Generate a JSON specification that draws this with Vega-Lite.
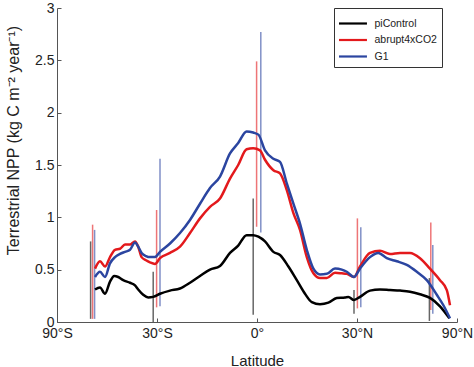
{
  "$schema": "https://vega.github.io/schema/vega-lite/v6.json",
  "width": 400,
  "height": 314,
  "autosize": {"type": "none"},
  "padding": {"left": 57, "top": 8, "right": 17, "bottom": 45},
  "background": "white",
  "config": {
    "view": {"stroke": null},
    "font": "Liberation Sans",
    "axis": {
      "domainColor": "#555",
      "tickColor": "#555",
      "tickSize": -4,
      "grid": false,
      "labelColor": "#222",
      "titleColor": "#222",
      "labelFontSize": 14,
      "titleFontSize": 15,
      "titleFontWeight": "normal",
      "labelFont": "Liberation Sans",
      "titleFont": "Liberation Sans",
      "labelFlush": false,
      "labelOverlap": false,
      "labelBound": false
    }
  },
  "datasets": {
    "curves": [
      {"s": -0.81, "series": "piControl", "npp": 0.31},
      {"s": -0.785, "series": "piControl", "npp": 0.33},
      {"s": -0.76, "series": "piControl", "npp": 0.27},
      {"s": -0.735, "series": "piControl", "npp": 0.385},
      {"s": -0.714, "series": "piControl", "npp": 0.44},
      {"s": -0.694, "series": "piControl", "npp": 0.43},
      {"s": -0.669, "series": "piControl", "npp": 0.40},
      {"s": -0.635, "series": "piControl", "npp": 0.375},
      {"s": -0.61, "series": "piControl", "npp": 0.35},
      {"s": -0.594, "series": "piControl", "npp": 0.31},
      {"s": -0.569, "series": "piControl", "npp": 0.26},
      {"s": -0.544, "series": "piControl", "npp": 0.235},
      {"s": -0.519, "series": "piControl", "npp": 0.24},
      {"s": -0.485, "series": "piControl", "npp": 0.27},
      {"s": -0.435, "series": "piControl", "npp": 0.30},
      {"s": -0.385, "series": "piControl", "npp": 0.32},
      {"s": -0.335, "series": "piControl", "npp": 0.375},
      {"s": -0.285, "series": "piControl", "npp": 0.44},
      {"s": -0.235, "series": "piControl", "npp": 0.50},
      {"s": -0.185, "series": "piControl", "npp": 0.535},
      {"s": -0.135, "series": "piControl", "npp": 0.66},
      {"s": -0.094, "series": "piControl", "npp": 0.73},
      {"s": -0.052, "series": "piControl", "npp": 0.83},
      {"s": -0.019, "series": "piControl", "npp": 0.83},
      {"s": 0.007, "series": "piControl", "npp": 0.815},
      {"s": 0.04, "series": "piControl", "npp": 0.77},
      {"s": 0.082, "series": "piControl", "npp": 0.67},
      {"s": 0.115, "series": "piControl", "npp": 0.64},
      {"s": 0.157, "series": "piControl", "npp": 0.53},
      {"s": 0.199, "series": "piControl", "npp": 0.40},
      {"s": 0.24, "series": "piControl", "npp": 0.27},
      {"s": 0.274, "series": "piControl", "npp": 0.19},
      {"s": 0.315, "series": "piControl", "npp": 0.17},
      {"s": 0.357, "series": "piControl", "npp": 0.185},
      {"s": 0.399, "series": "piControl", "npp": 0.23},
      {"s": 0.44, "series": "piControl", "npp": 0.235},
      {"s": 0.457, "series": "piControl", "npp": 0.24},
      {"s": 0.485, "series": "piControl", "npp": 0.21},
      {"s": 0.515, "series": "piControl", "npp": 0.24},
      {"s": 0.565, "series": "piControl", "npp": 0.30},
      {"s": 0.615, "series": "piControl", "npp": 0.31},
      {"s": 0.665, "series": "piControl", "npp": 0.305},
      {"s": 0.715, "series": "piControl", "npp": 0.30},
      {"s": 0.765, "series": "piControl", "npp": 0.29},
      {"s": 0.815, "series": "piControl", "npp": 0.265},
      {"s": 0.865, "series": "piControl", "npp": 0.23},
      {"s": 0.915, "series": "piControl", "npp": 0.15},
      {"s": 0.962, "series": "piControl", "npp": 0.035},

      {"s": -0.81, "series": "abrupt4xCO2", "npp": 0.51},
      {"s": -0.785, "series": "abrupt4xCO2", "npp": 0.58},
      {"s": -0.76, "series": "abrupt4xCO2", "npp": 0.53},
      {"s": -0.735, "series": "abrupt4xCO2", "npp": 0.62},
      {"s": -0.71, "series": "abrupt4xCO2", "npp": 0.69},
      {"s": -0.685, "series": "abrupt4xCO2", "npp": 0.70},
      {"s": -0.66, "series": "abrupt4xCO2", "npp": 0.74},
      {"s": -0.635, "series": "abrupt4xCO2", "npp": 0.74},
      {"s": -0.61, "series": "abrupt4xCO2", "npp": 0.77},
      {"s": -0.594, "series": "abrupt4xCO2", "npp": 0.72},
      {"s": -0.577, "series": "abrupt4xCO2", "npp": 0.62},
      {"s": -0.555, "series": "abrupt4xCO2", "npp": 0.59},
      {"s": -0.535, "series": "abrupt4xCO2", "npp": 0.57},
      {"s": -0.51, "series": "abrupt4xCO2", "npp": 0.555},
      {"s": -0.485, "series": "abrupt4xCO2", "npp": 0.61},
      {"s": -0.435, "series": "abrupt4xCO2", "npp": 0.66},
      {"s": -0.385, "series": "abrupt4xCO2", "npp": 0.72},
      {"s": -0.335, "series": "abrupt4xCO2", "npp": 0.85},
      {"s": -0.285, "series": "abrupt4xCO2", "npp": 0.99},
      {"s": -0.235, "series": "abrupt4xCO2", "npp": 1.10},
      {"s": -0.185, "series": "abrupt4xCO2", "npp": 1.18},
      {"s": -0.135, "series": "abrupt4xCO2", "npp": 1.37},
      {"s": -0.094, "series": "abrupt4xCO2", "npp": 1.50},
      {"s": -0.052, "series": "abrupt4xCO2", "npp": 1.65},
      {"s": -0.019, "series": "abrupt4xCO2", "npp": 1.66},
      {"s": 0.015, "series": "abrupt4xCO2", "npp": 1.64},
      {"s": 0.04, "series": "abrupt4xCO2", "npp": 1.55},
      {"s": 0.082, "series": "abrupt4xCO2", "npp": 1.45},
      {"s": 0.115, "series": "abrupt4xCO2", "npp": 1.42},
      {"s": 0.149, "series": "abrupt4xCO2", "npp": 1.26},
      {"s": 0.182, "series": "abrupt4xCO2", "npp": 1.04},
      {"s": 0.215, "series": "abrupt4xCO2", "npp": 0.88},
      {"s": 0.249, "series": "abrupt4xCO2", "npp": 0.62},
      {"s": 0.282, "series": "abrupt4xCO2", "npp": 0.465},
      {"s": 0.315, "series": "abrupt4xCO2", "npp": 0.42},
      {"s": 0.349, "series": "abrupt4xCO2", "npp": 0.42},
      {"s": 0.39, "series": "abrupt4xCO2", "npp": 0.47},
      {"s": 0.424, "series": "abrupt4xCO2", "npp": 0.465},
      {"s": 0.449, "series": "abrupt4xCO2", "npp": 0.46},
      {"s": 0.485, "series": "abrupt4xCO2", "npp": 0.43},
      {"s": 0.515, "series": "abrupt4xCO2", "npp": 0.53},
      {"s": 0.565, "series": "abrupt4xCO2", "npp": 0.66},
      {"s": 0.615, "series": "abrupt4xCO2", "npp": 0.68},
      {"s": 0.665, "series": "abrupt4xCO2", "npp": 0.65},
      {"s": 0.715, "series": "abrupt4xCO2", "npp": 0.66},
      {"s": 0.765, "series": "abrupt4xCO2", "npp": 0.66},
      {"s": 0.815, "series": "abrupt4xCO2", "npp": 0.61},
      {"s": 0.865, "series": "abrupt4xCO2", "npp": 0.51},
      {"s": 0.915, "series": "abrupt4xCO2", "npp": 0.40},
      {"s": 0.949, "series": "abrupt4xCO2", "npp": 0.305},
      {"s": 0.965, "series": "abrupt4xCO2", "npp": 0.16},

      {"s": -0.81, "series": "G1", "npp": 0.43},
      {"s": -0.785, "series": "G1", "npp": 0.48},
      {"s": -0.76, "series": "G1", "npp": 0.43},
      {"s": -0.735, "series": "G1", "npp": 0.56},
      {"s": -0.71, "series": "G1", "npp": 0.62},
      {"s": -0.685, "series": "G1", "npp": 0.65},
      {"s": -0.66, "series": "G1", "npp": 0.67},
      {"s": -0.635, "series": "G1", "npp": 0.69},
      {"s": -0.61, "series": "G1", "npp": 0.76},
      {"s": -0.594, "series": "G1", "npp": 0.72},
      {"s": -0.577, "series": "G1", "npp": 0.66},
      {"s": -0.555, "series": "G1", "npp": 0.63},
      {"s": -0.535, "series": "G1", "npp": 0.62},
      {"s": -0.51, "series": "G1", "npp": 0.62},
      {"s": -0.485, "series": "G1", "npp": 0.67},
      {"s": -0.435, "series": "G1", "npp": 0.75},
      {"s": -0.385, "series": "G1", "npp": 0.85},
      {"s": -0.335, "series": "G1", "npp": 0.975},
      {"s": -0.285, "series": "G1", "npp": 1.13},
      {"s": -0.235, "series": "G1", "npp": 1.28},
      {"s": -0.185, "series": "G1", "npp": 1.39},
      {"s": -0.135, "series": "G1", "npp": 1.61},
      {"s": -0.094, "series": "G1", "npp": 1.71},
      {"s": -0.052, "series": "G1", "npp": 1.82},
      {"s": -0.019, "series": "G1", "npp": 1.81},
      {"s": 0.007, "series": "G1", "npp": 1.79},
      {"s": 0.04, "series": "G1", "npp": 1.64},
      {"s": 0.082, "series": "G1", "npp": 1.56},
      {"s": 0.115, "series": "G1", "npp": 1.53},
      {"s": 0.149, "series": "G1", "npp": 1.325},
      {"s": 0.182, "series": "G1", "npp": 1.13},
      {"s": 0.215, "series": "G1", "npp": 0.94},
      {"s": 0.249, "series": "G1", "npp": 0.69},
      {"s": 0.282, "series": "G1", "npp": 0.51},
      {"s": 0.315, "series": "G1", "npp": 0.455},
      {"s": 0.349, "series": "G1", "npp": 0.46},
      {"s": 0.39, "series": "G1", "npp": 0.51},
      {"s": 0.424, "series": "G1", "npp": 0.50},
      {"s": 0.449, "series": "G1", "npp": 0.48},
      {"s": 0.485, "series": "G1", "npp": 0.43},
      {"s": 0.515, "series": "G1", "npp": 0.51},
      {"s": 0.565, "series": "G1", "npp": 0.62},
      {"s": 0.607, "series": "G1", "npp": 0.66},
      {"s": 0.649, "series": "G1", "npp": 0.61},
      {"s": 0.699, "series": "G1", "npp": 0.58},
      {"s": 0.749, "series": "G1", "npp": 0.545},
      {"s": 0.799, "series": "G1", "npp": 0.48},
      {"s": 0.849, "series": "G1", "npp": 0.40},
      {"s": 0.899, "series": "G1", "npp": 0.26},
      {"s": 0.932, "series": "G1", "npp": 0.16},
      {"s": 0.965, "series": "G1", "npp": 0.035}
    ],
    "ranges": [
      {"s": -0.832, "series": "piControl", "hi": 0.77, "lo": 0.03},
      {"s": -0.822, "series": "abrupt4xCO2", "hi": 0.93, "lo": 0.03},
      {"s": -0.812, "series": "G1", "hi": 0.88, "lo": 0.03},
      {"s": -0.519, "series": "piControl", "hi": 0.48, "lo": 0.0},
      {"s": -0.502, "series": "abrupt4xCO2", "hi": 1.07, "lo": 0.14},
      {"s": -0.485, "series": "G1", "hi": 1.56, "lo": 0.15},
      {"s": -0.019, "series": "piControl", "hi": 1.18, "lo": 0.07},
      {"s": -0.002, "series": "abrupt4xCO2", "hi": 2.49, "lo": 0.91},
      {"s": 0.019, "series": "G1", "hi": 2.77, "lo": 0.855},
      {"s": 0.485, "series": "piControl", "hi": 0.305, "lo": 0.08},
      {"s": 0.502, "series": "abrupt4xCO2", "hi": 0.99, "lo": 0.13},
      {"s": 0.519, "series": "G1", "hi": 0.905, "lo": 0.14},
      {"s": 0.862, "series": "piControl", "hi": 0.42, "lo": 0.01},
      {"s": 0.869, "series": "abrupt4xCO2", "hi": 0.95, "lo": 0.115},
      {"s": 0.879, "series": "G1", "hi": 0.735, "lo": 0.08}
    ]
  },
  "layer": [
    {
      "data": {"name": "ranges"},
      "mark": {"type": "rule"},
      "encoding": {
        "x": {"field": "s", "type": "quantitative", "scale": {"domain": [-1, 1], "nice": false}},
        "y": {"field": "hi", "type": "quantitative", "scale": {"domain": [0, 3], "nice": false}},
        "y2": {"field": "lo"},
        "strokeWidth": {"value": 1.5},
        "strokeOpacity": {"value": 0.6},
        "color": {
          "field": "series", "type": "nominal",
          "scale": {"domain": ["piControl", "abrupt4xCO2", "G1"], "range": ["#000000", "#e3191c", "#2b45a0"]},
          "legend": {
            "orient": "none",
            "legendX": 277,
            "legendY": 0,
            "title": null,
            "symbolType": "M-1.17,0H1.94",
            "symbolSize": 324,
            "symbolStrokeWidth": 2.2,
            "symbolOpacity": 1,
            "labelFontSize": 10.5,
            "labelFont": "Liberation Sans",
            "labelColor": "#222",
            "labelOffset": 14.5,
            "padding": 5,
            "rowPadding": 0.5,
            "strokeColor": "#333",
            "fillColor": "white",
            "labelExpr": "datum.label == 'abrupt4xCO2' ? datum.label + '\u00a0\u00a0\u00a0\u00a0\u00a0\u00a0\u00a0' : datum.label"
          }
        }
      }
    },
    {
      "data": {"name": "curves"},
      "mark": {"type": "line", "strokeWidth": 2.5, "interpolate": "monotone"},
      "encoding": {
        "x": {
          "field": "s", "type": "quantitative",
          "scale": {"domain": [-1, 1], "nice": false},
          "axis": {
            "title": "Latitude",
            "values": [-1, -0.5, 0, 0.5, 1],
            "labelExpr": "datum.value == -1 ? '90°S' : datum.value == -0.5 ? '30°S' : datum.value == 0 ? '0°' : datum.value == 0.5 ? '30°N' : '90°N'",
            "labelPadding": 8,
            "titleBaseline": "alphabetic",
            "titleY": 43
          }
        },
        "y": {
          "field": "npp", "type": "quantitative",
          "scale": {"domain": [0, 3], "nice": false},
          "axis": {
            "title": "Terrestrial NPP (kg C m⁻² year⁻¹)",
            "values": [0, 0.5, 1, 1.5, 2, 2.5, 3],
            "format": "~g",
            "labelPadding": 7,
            "titleAngle": -90,
            "titleFontSize": 16,
            "titleBaseline": "alphabetic",
            "titleAlign": "center",
            "titleX": -39,
            "titleY": 132
          }
        },
        "color": {
          "field": "series", "type": "nominal",
          "scale": {"domain": ["piControl", "abrupt4xCO2", "G1"], "range": ["#000000", "#e3191c", "#2b45a0"]}
        }
      }
    }
  ]
}
